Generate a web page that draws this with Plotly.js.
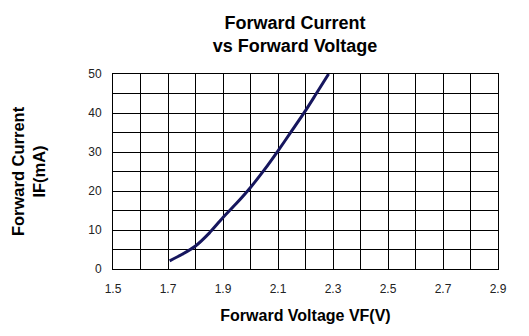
<!DOCTYPE html>
<html>
<head>
<script src="https://cdn.plot.ly/plotly-3.0.1.min.js"></script>
<style>html,body{margin:0;padding:0;background:#fff;}</style>
</head>
<body>
<div id="chart" style="width:529px;height:336px;"></div>
<script>
const voltage = [1.706, 1.75, 1.8, 1.85, 1.9, 1.95, 2.0, 2.05, 2.1, 2.148, 2.2, 2.236, 2.284];
const current = [2.1, 3.7, 5.9, 9.2, 13.2, 16.9, 20.9, 25.4, 30.3, 35.2, 40.6, 44.6, 50.0];
const xTicks = [1.5, 1.7, 1.9, 2.1, 2.3, 2.5, 2.7, 2.9];
const yTicks = [0, 10, 20, 30, 40, 50];

const trace = {
  x: voltage, y: current, type: 'scatter', mode: 'lines',
  line: {color: '#16165e', width: 3, shape: 'spline', smoothing: 0.6},
  hoverinfo: 'skip'
};

const layout = {
  width: 529, height: 336,
  margin: {l: 113, r: 31, t: 74, b: 67},
  paper_bgcolor: '#fff', plot_bgcolor: '#fff',
  showlegend: false,
  font: {family: 'Arial, Liberation Sans, sans-serif', color: '#000', size: 12},
  title: {
    text: '<b>Forward Current<br>vs Forward Voltage</b>',
    font: {size: 18, family: 'Arial, Liberation Sans, sans-serif', color: '#000'},
    x: 0.5577, xanchor: 'center', yref: 'container', y: 0.914, yanchor: 'middle'
  },
  xaxis: {
    range: [1.5, 2.9], tickvals: xTicks, ticktext: xTicks.map(v => v.toFixed(1)),
    showgrid: true, gridcolor: '#000', gridwidth: 1,
    minor: {dtick: 0.1, showgrid: true, gridcolor: '#000', gridwidth: 1},
    showline: true, linecolor: '#000', linewidth: 1, mirror: true,
    zeroline: false, ticks: '', ticklabelstandoff: 9, tickfont: {size: 12, color: '#222'},
    title: {text: '<b>Forward Voltage VF(V)</b>', font: {size: 16, color: '#000'}, standoff: 14}
  },
  yaxis: {
    range: [0, 50], tickvals: yTicks,
    showgrid: true, gridcolor: '#000', gridwidth: 1,
    minor: {dtick: 5, showgrid: true, gridcolor: '#000', gridwidth: 1},
    showline: true, linecolor: '#000', linewidth: 1, mirror: true,
    zeroline: false, ticks: '', ticklabelstandoff: 8, tickfont: {size: 12, color: '#222'},
    title: {text: '<b>Forward Current<br>IF(mA)</b>', font: {size: 16.5, color: '#000'}, standoff: 38}
  }
};

Plotly.newPlot('chart', [trace], layout, {staticPlot: true, displayModeBar: false});
</script>
</body>
</html>
